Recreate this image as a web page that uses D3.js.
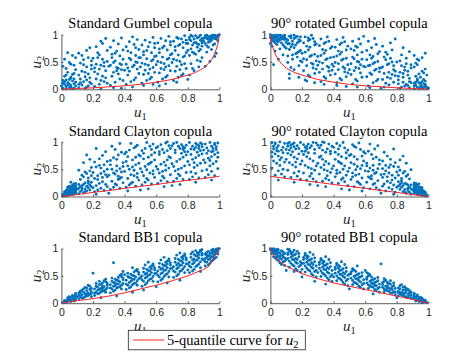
<!DOCTYPE html>
<html><head><meta charset="utf-8">
<script src="https://cdn.jsdelivr.net/npm/d3@7"></script>
<style>body{margin:0;background:#fff}svg{display:block}</style>
</head><body>
<svg id="c" width="474" height="355"></svg>
<script>
const xTicks=[0,0.2,0.4,0.6,0.8,1];
const yTicks=[0,0.5,1];
const titles=["Standard Gumbel copula","90° rotated Gumbel copula","Standard Clayton copula","90° rotated Clayton copula","Standard BB1 copula","90° rotated BB1 copula"];
const legendLabel="5-quantile curve for ";

// scatter samples, flat (u1,u2) pairs in percent
const gumbelStdPts=[1,2,3,5,2,9,5,3,4,12,6,7,8,2,7,15,9,6,1,11,3,1,5,18,2,14,6,4,8,10,0,6,4,8,9,13,7,1,3,17,6,20,1,16,8,19,5,10,2,24,4,31,7,27,9,36,1,42,6,46,3,38,8,29,5,49,2,55,7,62,9,58,4,67,6,22,3,26,8,44,
11,3,13,8,15,2,12,12,17,6,19,10,14,14,16,4,11,9,18,13,12,19,15,23,17,28,13,33,19,37,11,26,16,41,14,45,18,21,12,48,15,31,19,52,17,58,13,62,16,71,11,66,18,76,14,54,19,44,16,17,
21,5,24,9,27,14,22,19,26,24,29,11,23,28,28,21,25,16,21,32,24,37,27,42,22,46,29,51,26,55,23,58,28,34,25,44,21,39,27,49,24,63,29,71,22,78,26,84,28,93,23,67,25,88,20,57,
31,7,34,13,37,19,32,24,36,28,39,16,33,31,38,36,35,40,31,44,37,47,34,52,39,55,32,58,36,38,38,45,33,49,35,34,30,42,37,61,34,66,39,72,31,77,36,83,33,89,38,94,35,70,32,64,
41,9,44,14,47,21,42,26,46,17,49,29,43,33,48,37,45,41,41,46,47,50,44,54,49,58,42,39,46,44,43,57,48,49,40,35,47,62,44,67,49,73,41,78,46,82,43,87,48,91,45,96,42,70,47,76,
51,11,54,16,57,22,52,27,56,19,59,31,53,35,58,40,55,44,51,48,57,52,54,56,59,60,52,63,56,37,53,46,58,54,55,29,50,41,57,67,54,71,59,76,51,81,56,86,53,90,58,95,55,78,52,69,59,84,50,58,
61,13,64,19,67,25,62,30,66,22,69,34,63,38,68,43,65,47,61,51,67,55,64,59,69,63,62,67,66,41,63,49,68,57,65,36,60,45,67,72,64,76,69,81,61,85,66,89,63,93,68,97,65,79,62,74,69,87,60,61,
71,16,74,22,77,28,72,33,76,25,79,38,73,42,78,47,75,51,71,55,77,59,74,63,79,67,72,71,76,45,73,53,78,61,75,36,70,49,77,76,74,80,79,84,71,88,76,92,73,95,78,98,75,82,72,78,79,90,70,65,77,86,74,93,
81,26,84,34,87,41,82,47,86,53,89,58,83,38,88,51,81,62,84,66,87,70,82,74,86,77,89,79,83,68,88,73,85,64,80,71,87,82,84,85,89,88,81,91,86,94,83,97,88,99,85,86,82,89,89,93,80,84,87,96,84,92,86,83,81,95,88,90,83,81,85,98,89,85,82,99,
91,42,94,51,97,60,92,68,95,73,98,66,93,77,96,81,91,84,94,87,97,83,99,89,92,80,95,90,98,92,93,86,96,94,91,95,94,97,97,99,99,96,92,93,95,98,98,97,93,91,96,96,90,88,97,93,99,99,92,99,95,94,98,95,94,92,91,98,96,99,99,98,93,96,97,97,90,93,100,100,
25,1,33,3,45,4,52,7,58,9,66,10,73,13,80,18,38,2,62,6];

const gumbelRotPts=[2,45,5,55,8,63,3,70,6,74,1,79,4,82,7,85,9,78,2,88,5,87,8,81,0,84,3,91,6,93,9,95,1,97,4,99,7,96,2,94,5,98,8,92,0,100,3,96,6,99,9,91,1,93,4,95,7,98,2,99,5,92,8,97,0,95,3,98,6,90,9,99,1,90,4,89,7,93,3,85,
12,28,15,36,18,43,11,49,14,55,17,59,13,40,19,52,11,61,16,65,18,69,12,73,15,76,19,71,13,78,17,67,14,63,10,75,16,81,12,84,18,87,11,90,15,93,19,96,13,98,17,85,14,88,10,92,16,95,12,97,18,91,11,83,15,99,19,89,13,94,17,97,14,82,10,86,
22,17,25,23,28,29,21,34,24,26,27,39,23,43,26,48,29,52,21,56,25,60,28,64,22,68,24,72,27,46,23,54,26,62,29,37,20,50,25,77,28,81,21,85,24,89,27,93,22,96,26,99,29,83,23,79,25,91,20,66,28,87,24,94,
32,14,35,20,38,26,31,31,34,23,37,33,33,37,36,42,39,46,31,50,35,54,38,58,32,62,34,66,37,40,33,48,36,56,39,35,30,44,35,71,38,75,31,80,34,84,37,88,32,92,36,96,39,78,33,73,35,86,30,60,
42,12,45,17,48,23,41,28,44,20,47,32,43,36,46,41,49,45,41,49,45,53,48,57,42,61,44,64,47,38,43,47,46,55,49,30,40,42,45,68,48,72,41,77,44,82,47,87,42,91,46,95,49,79,43,70,45,85,40,59,
52,10,55,15,58,22,51,27,54,18,57,30,53,34,56,38,59,42,51,47,55,51,58,55,52,59,54,40,57,45,53,56,56,50,50,36,55,63,58,68,51,74,54,79,57,83,52,88,56,92,59,97,53,71,55,77,
62,6,65,12,68,18,61,23,64,27,67,15,63,30,66,35,69,39,62,43,65,47,68,51,61,54,64,57,67,37,63,44,66,49,69,32,60,41,65,60,68,65,61,71,64,76,67,82,62,88,66,93,69,69,63,63,
72,4,75,8,78,13,71,18,74,22,77,27,73,11,76,20,79,25,72,29,75,31,78,36,71,41,74,45,77,50,73,54,76,57,79,33,70,39,75,47,78,43,72,59,74,64,77,72,71,79,76,85,79,92,73,68,
82,2,85,6,88,3,81,10,84,13,87,7,89,12,83,4,86,9,88,14,81,17,84,22,87,26,82,31,85,35,89,39,83,43,86,47,88,20,81,24,84,29,87,33,85,41,89,45,82,52,86,57,83,63,88,69,84,76,80,50,
91,1,93,4,96,2,98,6,92,8,95,3,97,10,99,1,94,12,91,6,96,14,98,9,93,16,95,7,99,4,92,13,97,18,94,2,91,11,96,5,98,15,93,19,95,11,100,2,97,3,92,24,94,28,96,33,98,37,91,41,93,45,95,22,97,30,99,26,92,48,94,53,96,58,91,62,98,66,93,55,
12,20,18,22,28,12,34,9,42,7,48,5,55,4,63,3,70,2,23,15];

const claytonStdPts=[1,1,2,3,3,2,4,5,5,3,6,7,7,4,8,9,9,6,1,4,2,6,3,8,4,2,5,10,6,4,7,12,8,6,9,14,2,1,3,11,4,9,5,6,6,13,7,8,8,15,9,10,3,5,5,15,6,18,7,16,8,19,9,17,4,14,6,11,8,12,9,20,7,21,5,19,9,24,8,23,6,26,4,17,9,8,2,9,10,13,
11,5,12,9,13,12,14,7,15,14,16,10,17,16,18,12,19,18,11,15,12,18,13,20,14,22,15,9,16,19,17,24,18,21,19,26,13,16,15,25,17,28,11,22,12,31,14,36,16,42,18,47,19,53,13,39,15,45,17,34,19,38,11,48,14,62,18,68,16,76,
21,9,23,12,25,15,27,11,29,18,22,20,24,24,26,27,28,22,20,16,21,33,23,38,25,42,27,46,29,50,22,54,24,57,26,35,28,40,20,44,23,31,25,52,27,58,29,36,21,63,24,69,26,75,28,82,22,88,29,64,
31,13,33,17,35,21,37,15,39,25,32,28,34,23,36,31,38,35,30,39,33,43,35,47,37,51,39,55,31,58,34,41,36,37,38,45,32,50,35,56,37,33,39,62,31,66,33,71,36,76,38,81,34,86,32,92,37,97,35,68,
41,17,43,21,45,26,47,19,49,30,42,33,44,24,46,38,48,42,40,46,43,50,45,54,47,58,49,61,41,64,44,40,46,48,48,35,42,56,45,67,47,72,49,76,41,81,43,85,46,89,48,94,44,97,42,73,47,91,40,78,
51,21,53,26,55,30,57,23,59,35,52,38,54,33,56,43,58,47,50,51,53,55,55,59,57,63,59,67,51,45,54,49,56,61,58,41,52,69,55,72,57,76,59,80,51,84,53,88,56,92,58,96,54,99,52,79,57,86,50,74,
61,24,63,29,65,34,67,27,69,40,62,43,64,37,66,48,68,52,60,55,63,59,65,63,67,67,69,71,61,50,64,46,66,57,68,73,62,77,65,80,67,84,69,88,61,91,63,95,66,98,68,93,64,86,62,82,67,100,60,89,
71,28,73,33,75,38,77,31,79,44,72,47,74,41,76,52,78,56,70,60,73,64,75,68,77,72,79,76,71,55,74,50,76,79,78,82,72,85,75,88,77,91,79,94,71,97,73,99,76,95,78,89,74,92,72,80,77,86,70,93,
81,31,83,36,85,42,87,34,89,47,82,45,84,53,86,57,88,61,80,64,83,68,85,71,87,75,89,78,81,58,84,62,86,81,88,84,82,87,85,90,87,93,89,96,81,99,83,92,86,95,88,98,84,86,82,77,87,88,80,82,85,97,89,91,
91,35,93,40,95,46,97,38,99,51,92,49,94,56,96,60,98,64,90,67,93,70,95,73,97,77,99,80,91,62,94,66,96,83,98,86,92,89,95,92,97,95,99,98,91,96,93,84,96,88,98,91,94,99,92,79,97,97,90,85,95,82,99,72,
30,6,42,10,55,14,65,18,75,22,85,26,95,30,50,12,22,4,70,20];

const claytonRotPts=[99,1,98,2,97,3,96,4,95,6,94,5,93,8,92,7,91,10,99,3,98,5,97,7,96,2,95,9,94,11,93,4,92,13,91,6,98,1,97,10,96,8,95,4,94,14,93,12,92,16,91,15,97,5,95,13,94,17,93,18,92,20,91,19,96,12,94,9,92,11,91,22,93,21,95,17,91,25,92,24,94,23,96,16,91,8,98,8,90,12,
89,4,88,8,87,11,86,6,85,13,84,9,83,17,82,13,81,19,89,14,88,17,87,21,86,23,85,8,84,20,83,25,82,22,81,27,87,15,85,24,83,29,89,21,88,32,86,37,84,43,82,48,81,54,87,40,85,46,83,33,81,39,89,49,86,61,82,67,84,74,
79,8,77,13,75,16,73,10,71,19,78,21,76,25,74,28,72,23,80,17,79,34,77,39,75,43,73,47,71,51,78,55,76,58,74,36,72,41,80,45,77,30,75,53,73,57,71,35,79,62,76,68,74,74,72,81,78,87,71,65,
69,12,67,16,65,22,63,14,61,26,68,29,66,24,64,32,62,36,70,40,67,44,65,48,63,52,61,56,69,59,66,42,64,38,62,46,68,51,65,57,63,34,61,61,69,67,67,72,64,77,62,83,66,87,68,93,63,96,65,69,
59,16,57,22,55,27,53,18,51,31,58,34,56,25,54,39,52,43,60,47,57,51,55,55,53,59,51,62,59,65,56,41,54,49,52,36,58,57,55,68,53,73,51,77,59,82,57,86,54,90,52,95,56,98,58,74,53,92,60,79,
49,20,47,27,45,31,43,24,41,36,48,39,46,34,44,44,42,48,50,52,47,56,45,60,43,64,41,68,49,46,46,50,44,62,42,42,48,70,45,73,43,77,41,81,49,85,47,89,44,93,42,97,46,99,48,80,43,87,50,75,
39,25,37,30,35,33,33,28,31,41,38,44,36,38,34,49,32,53,40,56,37,60,35,64,33,68,31,72,39,51,36,47,34,58,32,74,38,78,35,81,33,85,31,89,39,92,37,96,34,99,32,94,36,87,38,83,33,100,40,90,
29,27,27,32,25,37,23,30,21,43,28,48,26,42,24,53,22,57,30,61,27,65,25,69,23,73,21,77,29,56,26,51,24,80,22,83,28,86,25,89,23,92,21,95,29,98,27,99,24,96,22,90,26,93,28,79,23,87,30,94,
19,31,17,37,15,43,13,35,11,48,18,46,16,54,14,58,12,62,20,65,17,69,15,72,13,76,11,79,19,59,16,63,14,82,12,85,18,88,15,91,13,94,11,97,19,99,17,93,14,96,12,99,16,87,18,78,13,89,20,83,15,98,11,92,
9,36,7,41,5,47,3,39,1,52,8,50,6,57,4,61,2,65,10,68,7,71,5,74,3,78,1,81,9,63,6,67,4,84,2,87,8,90,5,93,3,96,1,99,9,97,7,85,4,89,2,92,6,100,8,80,3,98,10,86,5,83,1,73,
70,6,58,10,45,14,35,18,25,22,15,26,5,30,50,12,78,4,30,20];

const bb1StdPts=[1,1,2,2,3,4,4,3,5,6,6,5,7,8,8,7,9,10,2,5,3,1,4,7,5,9,6,3,7,11,8,13,9,6,5,12,6,10,7,14,8,4,9,15,10,12,4,10,9,18,
11,8,12,12,13,15,14,10,15,17,16,13,17,19,18,16,19,21,11,14,12,18,13,9,14,20,15,12,16,23,17,14,18,25,19,18,12,22,14,26,16,28,18,31,13,24,15,29,17,33,19,27,11,19,16,17,19,12,20,55,
21,14,22,20,23,24,24,18,25,27,26,22,27,30,28,25,29,33,21,26,22,31,23,17,24,34,25,21,26,37,27,23,28,39,29,28,22,36,24,40,26,31,28,44,23,29,25,35,27,41,29,37,21,19,26,27,28,20,24,25,
31,19,32,26,33,31,34,24,35,35,36,29,37,39,38,33,39,43,31,34,32,40,33,22,34,44,35,28,36,47,37,30,38,49,39,36,32,46,34,37,36,41,38,53,33,38,35,42,37,51,39,46,31,28,36,35,38,26,34,32,33,74,39,58,
41,25,42,33,43,38,44,30,45,43,46,36,47,48,48,41,49,53,41,42,42,49,43,28,44,53,45,34,46,57,47,37,48,59,49,45,42,55,44,46,46,50,48,62,43,47,45,51,47,60,49,56,41,35,46,44,48,33,44,40,45,65,40,52,
51,31,52,40,53,46,54,37,55,51,56,44,57,56,58,49,59,61,51,50,52,57,53,34,54,62,55,41,56,66,57,45,58,69,59,54,52,64,54,55,56,59,58,72,53,53,55,60,57,68,59,65,51,43,56,52,58,40,54,48,55,75,50,47,57,63,53,70,
61,39,62,48,63,54,64,45,65,60,66,52,67,65,68,58,69,70,61,59,62,66,63,42,64,71,65,49,66,75,67,54,68,78,69,63,62,73,64,64,66,68,68,81,63,62,65,69,67,77,69,74,61,51,66,61,68,48,64,56,65,84,60,55,67,72,63,79,
71,47,72,57,73,63,74,53,75,69,76,60,77,74,78,67,79,79,71,67,72,75,73,50,74,80,75,58,76,84,77,63,78,87,79,72,72,82,74,73,76,77,78,90,73,70,75,78,77,86,79,83,71,59,76,70,78,56,74,65,75,92,70,64,77,81,73,88,
81,56,82,66,83,72,84,62,85,78,86,69,87,83,88,76,89,88,81,75,82,84,83,59,84,89,85,67,86,92,87,72,88,95,89,81,82,90,84,81,86,86,88,97,83,79,85,87,87,93,89,91,81,68,86,79,88,65,84,74,85,96,80,72,87,89,83,94,89,98,80,61,
91,68,92,75,93,80,94,73,95,85,96,79,97,89,98,84,99,95,91,82,92,88,93,70,94,91,95,77,96,94,97,82,98,97,99,90,92,93,94,86,96,89,98,99,93,87,95,92,97,96,99,98,91,76,96,84,98,92,94,81,95,97,90,79,97,93,93,95,99,100,100,100,91,90,92,84,96,99,98,95,
25,10,45,20,60,30,75,42,88,58,35,13,52,24,67,37];

const bb1RotPts=[99,1,98,3,97,2,96,5,95,4,94,7,93,6,92,9,91,8,98,5,97,6,96,1,95,8,94,10,93,12,92,4,91,13,95,11,94,3,93,15,92,11,91,16,90,10,96,9,91,18,
89,9,88,13,87,16,86,11,85,18,84,14,83,20,82,17,81,22,89,15,88,19,87,10,86,21,85,13,84,24,83,15,82,26,81,19,88,23,86,27,84,29,82,32,87,25,85,30,83,34,81,28,89,20,84,18,81,13,85,24,
79,15,78,21,77,25,76,19,75,28,74,23,73,31,72,26,71,34,79,27,78,32,77,18,76,35,75,22,74,38,73,24,72,40,71,29,78,37,76,41,74,32,72,45,77,30,75,36,73,42,71,38,79,20,74,28,72,21,76,26,
69,20,68,27,67,32,66,25,65,36,64,30,63,40,62,34,61,44,69,35,68,41,67,23,66,45,65,29,64,48,63,31,62,50,61,37,68,47,66,38,64,42,62,54,67,39,65,43,63,52,61,47,69,29,64,36,62,27,66,33,60,60,61,56,
59,26,58,34,57,39,56,31,55,44,54,37,53,49,52,42,51,54,59,43,58,50,57,29,56,54,55,35,54,58,53,38,52,60,51,46,58,56,56,47,54,51,52,63,57,48,55,52,53,61,51,57,59,36,54,45,52,34,56,41,55,68,50,53,
49,32,48,41,47,47,46,38,45,52,44,45,43,57,42,50,41,62,49,51,48,58,47,35,46,63,45,42,44,67,43,46,42,70,41,55,48,65,46,56,44,60,42,73,47,54,45,61,43,69,41,66,49,44,44,53,42,41,46,49,45,76,40,48,43,64,47,71,
39,40,38,49,37,55,36,46,35,61,34,53,33,66,32,59,31,71,39,60,38,67,37,43,36,72,35,50,34,76,33,55,32,79,31,64,38,74,36,65,34,69,32,82,37,63,35,70,33,78,31,75,39,52,34,62,32,49,36,57,35,85,30,56,33,73,37,80,
29,48,28,58,27,64,26,54,25,70,24,61,23,75,22,68,21,80,29,68,28,76,27,51,26,81,25,59,24,85,23,64,22,88,21,73,28,83,26,74,24,78,22,91,27,71,25,79,23,87,21,84,29,60,24,71,22,57,26,66,25,93,20,73,23,82,27,89,
19,57,18,67,17,73,16,63,15,79,14,70,13,84,12,77,11,89,19,76,18,85,17,60,16,90,15,68,14,93,13,73,12,96,11,82,18,91,16,82,14,87,12,98,17,80,15,88,13,94,11,92,19,69,14,80,12,66,16,75,15,97,20,73,13,90,17,95,11,99,20,62,
9,69,8,76,7,81,6,74,5,86,4,80,3,90,2,85,1,96,9,83,8,89,7,71,6,92,5,78,4,95,3,83,2,98,1,91,8,94,6,87,4,90,2,100,7,88,5,93,3,97,1,99,9,77,4,85,2,93,6,82,5,98,10,80,3,95,7,96,0,100,0,98,9,91,8,85,4,99,2,96,
10,60,20,48,35,35,50,26,65,17,80,10,15,58,28,40,70,72];

// 5-quantile curves for u2
const gumbelStdCurveU1=[0,0.05,0.1,0.2,0.3,0.4,0.5,0.6,0.7,0.8,0.85,0.9,0.93,0.95,0.97,0.99,1];
const gumbelStdCurveU2=[0,0.008,0.015,0.027,0.045,0.065,0.09,0.13,0.18,0.26,0.31,0.39,0.47,0.54,0.65,0.82,1];
const gumbelRotCurveU1=[0,0.01,0.03,0.05,0.07,0.1,0.15,0.2,0.3,0.4,0.5,0.6,0.7,0.8,0.9,0.95,1];
const gumbelRotCurveU2=[1,0.82,0.65,0.54,0.47,0.39,0.31,0.26,0.18,0.13,0.09,0.065,0.045,0.027,0.015,0.008,0];
const claytonStdCurveU1=[0,0.05,0.1,0.2,0.3,0.4,0.5,0.6,0.7,0.8,0.9,1];
const claytonStdCurveU2=[0,0.015,0.035,0.075,0.11,0.15,0.185,0.22,0.26,0.295,0.33,0.37];
const claytonRotCurveU1=[0,0.1,0.2,0.3,0.4,0.5,0.6,0.7,0.8,0.9,0.95,1];
const claytonRotCurveU2=[0.37,0.33,0.295,0.26,0.22,0.185,0.15,0.11,0.075,0.035,0.015,0];
const bb1StdCurveU1=[0,0.05,0.1,0.2,0.3,0.4,0.5,0.6,0.7,0.8,0.9,0.93,0.95,0.97,0.99,1];
const bb1StdCurveU2=[0,0.025,0.045,0.085,0.13,0.19,0.26,0.33,0.41,0.5,0.62,0.67,0.76,0.86,0.95,1];
const bb1RotCurveU1=[0,0.01,0.03,0.05,0.08,0.1,0.2,0.3,0.4,0.5,0.6,0.7,0.8,0.9,1];
const bb1RotCurveU2=[1,0.93,0.84,0.78,0.72,0.68,0.54,0.45,0.37,0.31,0.25,0.19,0.13,0.07,0];

const panels=[
 {title:titles[0],pts:gumbelStdPts,cu1:gumbelStdCurveU1,cu2:gumbelStdCurveU2,col:0,row:0},
 {title:titles[1],pts:gumbelRotPts,cu1:gumbelRotCurveU1,cu2:gumbelRotCurveU2,col:1,row:0},
 {title:titles[2],pts:claytonStdPts,cu1:claytonStdCurveU1,cu2:claytonStdCurveU2,col:0,row:1},
 {title:titles[3],pts:claytonRotPts,cu1:claytonRotCurveU1,cu2:claytonRotCurveU2,col:1,row:1},
 {title:titles[4],pts:bb1StdPts,cu1:bb1StdCurveU1,cu2:bb1StdCurveU2,col:0,row:2},
 {title:titles[5],pts:bb1RotPts,cu1:bb1RotCurveU1,cu2:bb1RotCurveU2,col:1,row:2}
];

const colLeft=[61.4,270.4], axW=158, rowTop=[34.7,141.9,248.6], axH=54.6;
const serif="'Liberation Serif','Times New Roman',serif";
const sans="'Liberation Sans',Arial,Helvetica,sans-serif";
const axisColor="#4a4a4a", dotColor="#0072BD", curveColor="#ff2020";

const svg=d3.select("#c");

panels.forEach(p=>{
  const L=colLeft[p.col], T=rowTop[p.row];
  const x=d3.scaleLinear().domain([0,1]).range([L,L+axW]);
  const y=d3.scaleLinear().domain([0,1]).range([T+axH,T]);
  const g=svg.append("g");

  const xa=d3.axisBottom(x).tickValues(xTicks).tickFormat(d3.format("~g")).tickSize(-2).tickSizeOuter(0).tickPadding(5.5);
  const ya=d3.axisLeft(y).tickValues(yTicks).tickFormat(d3.format("~g")).tickSize(-2).tickSizeOuter(0).tickPadding(3);
  const gx=g.append("g").attr("transform",`translate(0,${T+axH})`).call(xa);
  const gy=g.append("g").attr("transform",`translate(${L},0)`).call(ya);
  [gx,gy].forEach(a=>{
    a.attr("font-family",sans).attr("font-size",10.5);
    a.selectAll("path,line").attr("stroke",axisColor).attr("stroke-width",0.9);
    a.selectAll("text").attr("fill","#262626");
  });

  const pairs=d3.range(0,p.pts.length,2).map(i=>[p.pts[i]/100,p.pts[i+1]/100]);
  g.append("g").selectAll("circle").data(pairs).join("circle")
    .attr("cx",d=>x(d[0])).attr("cy",d=>y(d[1])).attr("r",1.45).attr("fill",dotColor);

  const line=d3.line().x(d=>x(d[0])).y(d=>y(d[1]));
  g.append("path").datum(d3.zip(p.cu1,p.cu2)).attr("d",line)
    .attr("fill","none").attr("stroke",curveColor).attr("stroke-width",1);

  g.append("text").attr("x",L+axW/2).attr("y",T-6.3).attr("text-anchor","middle")
    .attr("font-family",serif).attr("font-size",14.5).attr("fill","#000").text(p.title);

  const xl=g.append("text").attr("x",L+axW/2).attr("y",T+axH+27.5).attr("text-anchor","middle")
    .attr("font-family",serif).attr("fill","#262626");
  xl.append("tspan").attr("font-style","italic").attr("font-size",15).text("u");
  xl.append("tspan").attr("font-size",10.5).attr("dy",3).text("1");

  const yl=g.append("text").attr("transform",`translate(${L-20},${T+axH/2}) rotate(-90)`).attr("text-anchor","middle")
    .attr("font-family",serif).attr("fill","#262626");
  yl.append("tspan").attr("font-style","italic").attr("font-size",15).text("u");
  yl.append("tspan").attr("font-size",10.5).attr("dy",3).text("2");
});

// legend
const lg=svg.append("g");
lg.append("rect").attr("x",128.3).attr("y",330.3).attr("width",177).attr("height",19.5)
  .attr("fill","#fff").attr("stroke","#262626").attr("stroke-width",0.8);
lg.append("line").attr("x1",133).attr("x2",164).attr("y1",340).attr("y2",340)
  .attr("stroke",curveColor).attr("stroke-width",1);
const lt=lg.append("text").attr("x",167).attr("y",344.5).attr("font-family",serif).attr("font-size",14.5).attr("fill","#000");
lt.append("tspan").text(legendLabel);
lt.append("tspan").attr("font-style","italic").attr("font-size",15).text("u");
lt.append("tspan").attr("font-size",10.5).attr("dy",3).text("2");
</script>
</body></html>
